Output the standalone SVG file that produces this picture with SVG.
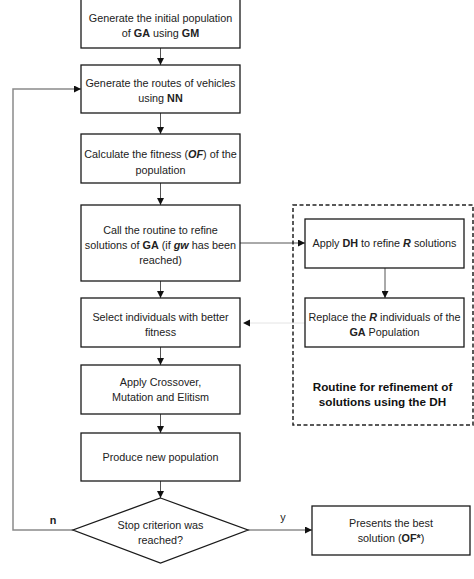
<svg xmlns="http://www.w3.org/2000/svg" width="474" height="579" viewBox="0 0 474 579">
<style>
.box{fill:#fff;stroke:#1a1a1a;stroke-width:1.3}
.t{font-family:"Liberation Sans",Arial,sans-serif;font-size:10.8px;fill:#222;text-anchor:middle}
.tb{font-family:"Liberation Sans",Arial,sans-serif;font-size:11.7px;font-weight:bold;fill:#111;text-anchor:middle}
.c{fill:none;stroke:#555;stroke-width:1}
.lp{fill:none;stroke:#8a8a8a;stroke-width:1.5}
</style>
<defs>
<marker id="ah" viewBox="0 0 8 8" refX="8" refY="4" markerWidth="7" markerHeight="7" markerUnits="userSpaceOnUse" orient="auto">
<path d="M0,0 L8,4 L0,8 z" fill="#111"/>
</marker>
</defs>
<rect width="474" height="579" fill="#fff"/>
<g id="connectors">
<line class="c" x1="160.5" y1="48" x2="160.5" y2="65" marker-end="url(#ah)"/>
<line class="c" x1="160.5" y1="113" x2="160.5" y2="134" marker-end="url(#ah)"/>
<line class="c" x1="160.5" y1="183" x2="160.5" y2="205" marker-end="url(#ah)"/>
<line class="c" x1="160.5" y1="281" x2="160.5" y2="298" marker-end="url(#ah)"/>
<line class="c" x1="160.5" y1="347" x2="160.5" y2="365" marker-end="url(#ah)"/>
<line class="c" x1="160.5" y1="414" x2="160.5" y2="433" marker-end="url(#ah)"/>
<line class="c" x1="160.5" y1="481" x2="160.5" y2="498" marker-end="url(#ah)"/>
<line class="c" x1="240" y1="243" x2="305" y2="243" marker-end="url(#ah)"/>
<line class="c" x1="385" y1="268" x2="385" y2="298" marker-end="url(#ah)"/>
<line x1="305" y1="323" x2="250" y2="323" stroke="#e4e4e4" stroke-width="1"/>
<path d="M250,319.5 L243,323 L250,326.5 z" fill="#111"/>
<polyline class="lp" points="73,530 13,530 13,89 74,89"/>
<line class="c" x1="74" y1="89" x2="81" y2="89" marker-end="url(#ah)"/>
<line class="c" x1="248" y1="530" x2="312" y2="530" marker-end="url(#ah)"/>
<text class="t" x="53" y="524" font-weight="bold">n</text>
<text class="t" x="283" y="521">y</text>
</g>
<g id="n1">
<rect class="box" x="81" y="-2" width="159" height="50"/>
<text class="t" x="160.5" y="22">Generate the initial population</text>
<text class="t" x="160.5" y="37">of <tspan font-weight="bold">GA</tspan> using <tspan font-weight="bold">GM</tspan></text>
</g>
<g id="n2">
<rect class="box" x="81" y="65" width="159" height="48"/>
<text class="t" x="160.5" y="87">Generate the routes of vehicles</text>
<text class="t" x="160.5" y="102">using <tspan font-weight="bold">NN</tspan></text>
</g>
<g id="n3">
<rect class="box" x="81" y="134" width="159" height="49"/>
<text class="t" x="160.5" y="158">Calculate the fitness (<tspan font-weight="bold" font-style="italic">OF</tspan>) of the</text>
<text class="t" x="160.5" y="174">population</text>
</g>
<g id="n4">
<rect class="box" x="81" y="205" width="159" height="76"/>
<text class="t" x="160.5" y="234">Call the routine to refine</text>
<text class="t" x="160.5" y="249">solutions of <tspan font-weight="bold">GA</tspan> (if <tspan font-weight="bold" font-style="italic">gw</tspan> has been</text>
<text class="t" x="160.5" y="264">reached)</text>
</g>
<g id="n5">
<rect class="box" x="81" y="298" width="159" height="49"/>
<text class="t" x="160.5" y="321">Select individuals with better</text>
<text class="t" x="160.5" y="336">fitness</text>
</g>
<g id="n6">
<rect class="box" x="81" y="365" width="159" height="49"/>
<text class="t" x="160.5" y="386">Apply Crossover,</text>
<text class="t" x="160.5" y="401">Mutation and Elitism</text>
</g>
<g id="n7">
<rect class="box" x="81" y="433" width="159" height="48"/>
<text class="t" x="160.5" y="461">Produce new population</text>
</g>
<g id="n8">
<polygon class="box" points="160.5,498 248,530 160.5,563 73,530"/>
<text class="t" x="160.5" y="529">Stop criterion was</text>
<text class="t" x="160.5" y="544">reached?</text>
</g>
<g id="routine">
<rect x="293" y="205" width="180" height="220" fill="none" stroke="#222" stroke-width="1.5" stroke-dasharray="4,2.5"/>
<text class="tb" x="382.5" y="391">Routine for refinement of</text>
<text class="tb" x="382.5" y="406">solutions using the DH</text>
</g>
<g id="n9">
<rect class="box" x="305" y="219" width="159" height="49"/>
<text class="t" x="384.5" y="247">Apply <tspan font-weight="bold">DH</tspan> to refine <tspan font-weight="bold" font-style="italic">R</tspan> solutions</text>
</g>
<g id="n10">
<rect class="box" x="305" y="298" width="159" height="49"/>
<text class="t" x="384.5" y="321">Replace the <tspan font-weight="bold" font-style="italic">R</tspan> individuals of the</text>
<text class="t" x="384.5" y="336"><tspan font-weight="bold">GA</tspan> Population</text>
</g>
<g id="n11">
<rect class="box" x="312" y="506" width="158" height="49"/>
<text class="t" x="391" y="527">Presents the best</text>
<text class="t" x="391" y="542">solution (<tspan font-weight="bold">OF*</tspan>)</text>
</g>
</svg>
